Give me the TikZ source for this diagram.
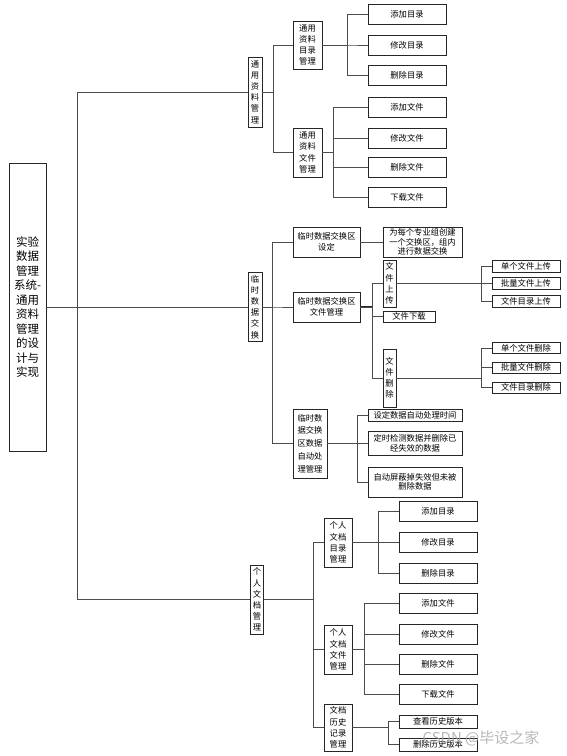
\documentclass[tikz,border=0pt]{standalone}
\usepackage{fontspec}
\setmainfont{Noto Sans CJK SC}
\tikzset{
  box/.style 2 args = {draw=black!85,fill=white,line width=0.8pt,inner sep=0pt,
    minimum width=#1pt,minimum height=#2pt,align=center,
    font=\fontsize{8.3}{11.2}\selectfont},
  tight/.style = {font=\fontsize{8.3}{9.6}\selectfont},
  link/.style = {draw=black!70,line width=0.8pt},
  bus/.style = {draw=black!85,line width=1.6pt}
}

\begin{document}
\begin{tikzpicture}[x=1pt,y=-1pt]
  \useasboundingbox (0,0) rectangle (566,756);
  % root
  \node[box={37}{288},font=\fontsize{11.5}{14.5}\selectfont] (root) at (27.5,307)
    {实验\\数据\\管理\\系统-\\通用\\资料\\管理\\的设\\计与\\实现};
  % level 1
  \node[box={14}{70}] (ty) at (255,92)    {通\\用\\资\\料\\管\\理};
  \node[box={14}{69}] (ls) at (255,307)   {临\\时\\数\\据\\交\\换};
  \node[box={13}{69}] (gr) at (257,599.5) {个\\人\\文\\档\\管\\理};
  % common data
  \node[box={29}{48}] (tm) at (307.5,45)    {通用\\资料\\目录\\管理};
  \node[box={29}{49}] (tw) at (307.5,152.5) {通用\\资料\\文件\\管理};
  \node[box={78}{20}] (tm1) at (407,14)   {添加目录};
  \node[box={78}{20}] (tm2) at (407,45)   {修改目录};
  \node[box={78}{20}] (tm3) at (407,75.5) {删除目录};
  \node[box={78}{20}] (tw1) at (407,107)   {添加文件};
  \node[box={78}{20}] (tw2) at (407,138)   {修改文件};
  \node[box={78}{20}] (tw3) at (407,167)   {删除文件};
  \node[box={78}{20}] (tw4) at (407,197.5) {下载文件};
  % exchange
  \node[box={67}{30}] (sd) at (326.5,242) {临时数据交换区\\设定};
  \node[box={67}{30}] (wg) at (326.5,307) {临时数据交换区\\文件管理};
  \node[box={34}{69},font=\fontsize{8.3}{12.8}\selectfont] (zd) at (310,443.5)
    {临时数\\据交换\\区数据\\自动处\\理管理};
  \node[box={79}{30},tight] (jh) at (422.5,242)
    {为每个专业组创建\\一个交换区，组内\\进行数据交换};
  \node[box={13}{47}] (sc) at (389.5,283.5) {文\\件\\上\\传};
  \node[box={52}{11}] (xz) at (409,316.5)   {文件下载};
  \node[box={13}{58}] (sx) at (389.5,378)   {文\\件\\删\\除};
  \node[box={68}{12}] (sc1) at (526,266)   {单个文件上传};
  \node[box={68}{12}] (sc2) at (526,283.5) {批量文件上传};
  \node[box={68}{12}] (sc3) at (526,301.5) {文件目录上传};
  \node[box={68}{11}] (sx1) at (526,348)   {单个文件删除};
  \node[box={68}{11}] (sx2) at (526,367.5) {批量文件删除};
  \node[box={68}{11}] (sx3) at (526,387.5) {文件目录删除};
  \node[box={94}{12}] (zd1) at (415,415)   {设定数据自动处理时间};
  \node[box={94}{24},tight] (zd2) at (415,443.5) {定时检测数据并删除已\\经失效的数据};
  \node[box={94}{30},tight] (zd3) at (415,482)   {自动屏蔽掉失效但未被\\删除数据};
  % personal
  \node[box={28}{49}] (gm) at (338,542.5) {个人\\文档\\目录\\管理};
  \node[box={28}{49}] (gw) at (338,649.5) {个人\\文档\\文件\\管理};
  \node[box={28}{47}] (gh) at (338,727.5) {文档\\历史\\记录\\管理};
  \node[box={78}{20}] (gm1) at (438,511) {添加目录};
  \node[box={78}{20}] (gm2) at (438,542) {修改目录};
  \node[box={78}{20}] (gm3) at (438,573) {删除目录};
  \node[box={78}{20}] (gw1) at (438,603) {添加文件};
  \node[box={78}{20}] (gw2) at (438,634) {修改文件};
  \node[box={78}{20}] (gw3) at (438,664) {删除文件};
  \node[box={78}{20}] (gw4) at (438,694) {下载文件};
  \node[box={78}{13}] (gh1) at (438,721.5) {查看历史版本};
  \node[box={78}{13}] (gh2) at (438,744.5) {删除历史版本};
  % links
  \draw[link] (root.east |- ls.west) -- (ls.west);
  \draw[link] (ty.west) -- ++(-170,0) |- (gr.west);
  \foreach \c in {tm,tw} \draw[link] (ty.east) -- ++(11,0) |- (\c.west);
  \foreach \c in {tm1,tm2,tm3} \draw[link] (tm.east) -- ++(25,0) |- (\c.west);
  \foreach \c in {tw1,tw2,tw3,tw4} \draw[link] (tw.east) -- ++(11,0) |- (\c.west);
  \foreach \c in {sd,wg,zd} \draw[link] (ls.east) -- ++(10,0) |- (\c.west);
  \draw[link] (sd.east) -- (jh.west);
  \draw[bus] (wg.east) -- ++(12,0);
  \foreach \c in {sc,xz,sx} \draw[link] (wg.east) -- ++(12,0) |- (\c.west);
  \foreach \c in {sc1,sc2,sc3} \draw[link] (sc.east) -- ++(85,0) |- (\c.west);
  \foreach \c in {sx1,sx2,sx3} \draw[link] (sx.east) -- ++(85,0) |- (\c.west);
  \draw[bus] (zd.east) -- ++(24,0);
  \foreach \c in {zd1,zd2,zd3} \draw[link] (zd.east) -- ++(30,0) |- (\c.west);
  \foreach \c in {gm,gw,gh} \draw[link] (gr.east) -- ++(49,0) |- (\c.west);
  \foreach \c in {gm1,gm2,gm3} \draw[link] (gm.east) -- ++(26,0) |- (\c.west);
  \foreach \c in {gw1,gw2,gw3,gw4} \draw[link] (gw.east) -- ++(12,0) |- (\c.west);
  \foreach \c in {gh1,gh2} \draw[link] (gh.east) -- ++(36,0) |- (\c.west);
  % watermark
  \node[text=black!35,opacity=0.8,font=\fontsize{15}{15}\selectfont] (wm) at (481,738)
    {CSDN @毕设之家};
\end{tikzpicture}
\end{document}
